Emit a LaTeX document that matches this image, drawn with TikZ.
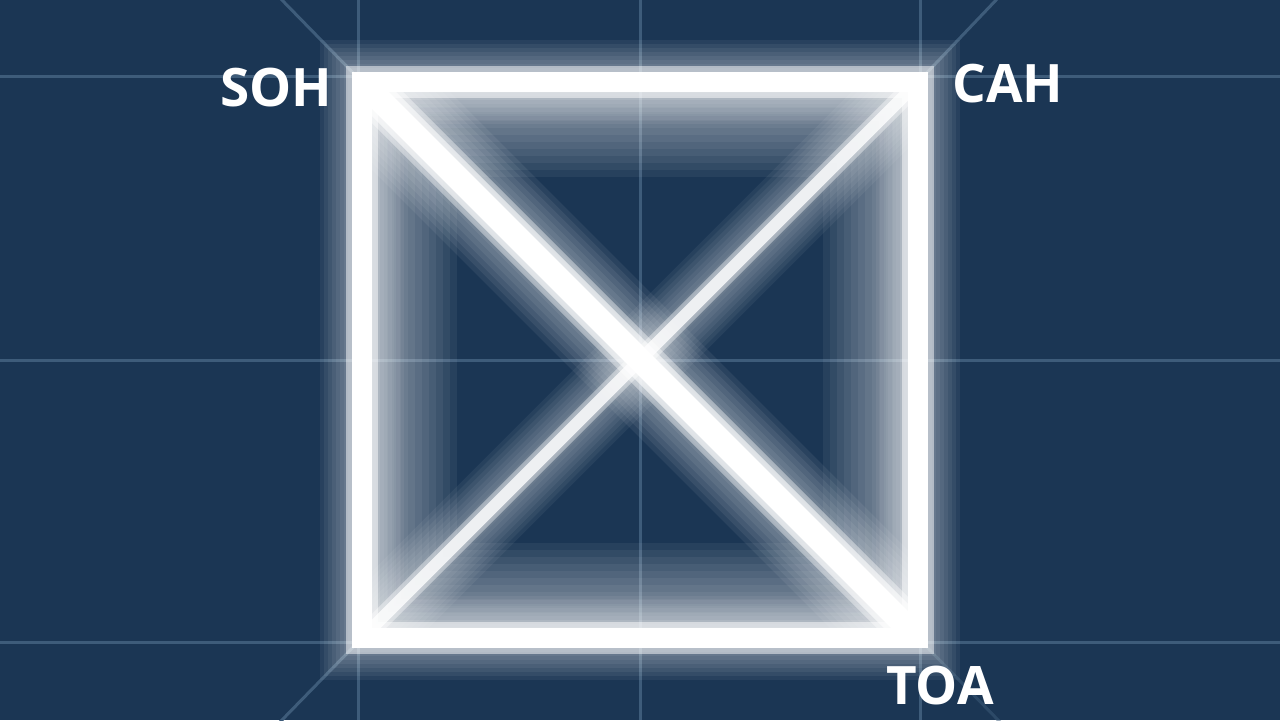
\documentclass[tikz,border=0pt]{standalone}
\usepackage{fontspec}
\setmainfont{Open Sans}
\usetikzlibrary{calc}
\definecolor{bgc}{RGB}{27,54,84}
\definecolor{gridc}{RGB}{62,92,122}
\tikzset{
  gridline/.style={draw=gridc, line width=1.5},
  haze/.style={draw=white, line join=miter},
  core/.style={draw=white, line width=10, line join=miter},
  lbl/.style={text=white, font=\fontsize{26.5}{30}\selectfont\bfseries, inner sep=0pt}
}
\begin{document}
\begin{tikzpicture}[x=0.5pt,y=-0.5pt]
\fill[bgc] (0,0) rectangle (1280,720);
\useasboundingbox (0,0) rectangle (1280,720);
% grid
\foreach \x in {358,640,920} \draw[gridline] (\x,0) -- (\x,720);
\foreach \y in {76,360,642} \draw[gridline] (0,\y) -- (1280,\y);
% corners
\coordinate (tl) at (362,82);
\coordinate (tr) at (918,82);
\coordinate (br) at (918,638);
\coordinate (bl) at (362,638);
\coordinate (otl) at (280,-2);
\coordinate (otr) at (998,-2);
\coordinate (obl) at (280,722);
\coordinate (obr) at (1000,722);
\draw[gridline] (tl) -- (otl);
\draw[gridline] (tr) -- (otr);
\draw[gridline] (bl) -- (obl);
\draw[gridline, opacity=0.5] (br) -- (obr);
% outer glow of square
\foreach \w in {84,76,...,12} {
  \draw[haze, opacity=0.06, line width=0.5*\w] (tl) -- (tr) -- (br) -- (bl) -- cycle;
}
% inner haze, clipped to square
\begin{scope}
  \clip (tl) -- (tr) -- (br) -- (bl) -- cycle;
  \foreach \w in {190,176,...,20} {
    \draw[haze, opacity=0.055, line width=0.5*\w] (tl) -- (tr) -- (br) -- (bl) -- cycle;
  }
  \foreach \w in {110,100,...,20} {
    \draw[haze, opacity=0.065, line width=0.5*\w] (tl) -- (br);
  }
  \foreach \w in {80,72,...,10} {
    \draw[haze, opacity=0.055, line width=0.5*\w] (tr) -- (bl);
  }
\end{scope}
\begin{scope}
  \clip ($(tl)+(-5,-5)$) rectangle ($(br)+(5,5)$);
  \draw[draw=white, opacity=0.4, line width=10] (tr) -- (bl);
  \draw[draw=white, opacity=0.8, line width=6] (tr) -- (bl);
  \draw[draw=white, opacity=0.4, line width=22] (tl) -- (br);
  \draw[draw=white, opacity=0.6, line width=17] (tl) -- (br);
  \draw[draw=white, line width=12] (tl) -- (br);
\end{scope}
\draw[draw=white, opacity=0.5, line width=16, line join=miter] (tl) -- (tr) -- (br) -- (bl) -- cycle;
\draw[core] (tl) -- (tr) -- (br) -- (bl) -- cycle;
% labels
\node[lbl] (soh) at (276,88) {SOH};
\node[lbl] (cah) at (1008,84) {CAH};
\node[lbl] (toa) at (940,686) {TOA};
\end{tikzpicture}
\end{document}
